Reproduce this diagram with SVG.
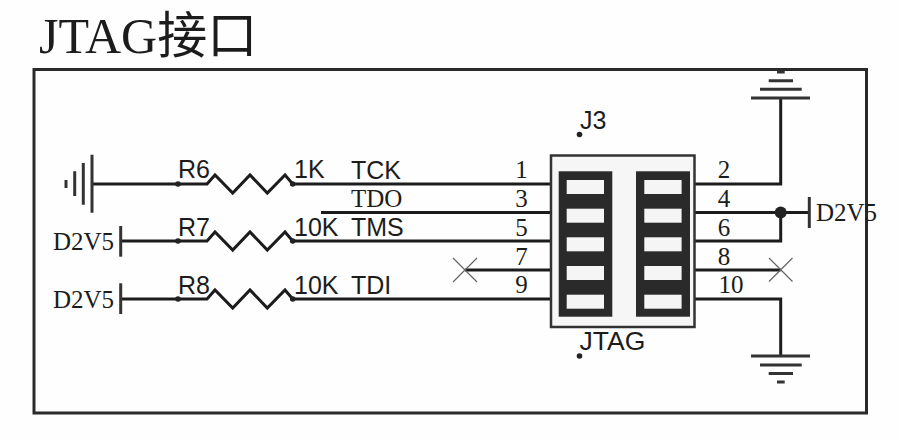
<svg xmlns="http://www.w3.org/2000/svg" width="899" height="440" viewBox="0 0 899 440">
<style>
.w{fill:none;stroke:#1c1c1c;stroke-width:3}
.t{fill:none;stroke:#333;stroke-width:3}
.x{fill:none;stroke:#666;stroke-width:1.2}
.a{font-family:"Liberation Sans",Arial,sans-serif;font-size:25px;fill:#1c1c1c}
.s{font-family:"Liberation Serif","Times New Roman",serif;font-size:25px;fill:#1c1c1c}
.m{text-anchor:middle}
.d{fill:#222}
.k{fill:#2a2a2a}
.p{fill:#f5f5f5}
</style>
<rect width="899" height="440" fill="#fefefe"/>
<text x="39" y="52.500" font-family="'Liberation Serif','Noto Sans CJK SC',serif" font-size="50" fill="#1c1c1c">JTAG接口</text>
<rect id="frame" x="34" y="69.500" width="832.500" height="343.500" fill="none" stroke="#2a2a2a" stroke-width="3"/>
<g id="connectors">
<path class="w" d="M92 184H207L215 175L232.700 193L250 175L267.300 193L285 175L292.700 184H551"/>
<path class="w" d="M321 212.500H551"/>
<path class="w" d="M120.700 241H207L215 232L232.700 250L250 232L267.300 250L285 232L292.700 241H551"/>
<path class="w" d="M465 270H551"/>
<path class="w" d="M120.700 299H207L215 290L232.700 308L250 290L267.300 308L285 290L292.700 299H551"/>
<path class="w" d="M694 184H780.700V98"/>
<path class="w" d="M694 212.500H809"/>
<path class="w" d="M694 241H780.700V212.500"/>
<path class="w" d="M694 270H780.700"/>
<path class="w" d="M694 299H780.700V356"/>
<circle class="d" cx="780.700" cy="212.500" r="6"/>
<g class="d">
<circle cx="178" cy="184" r="2.800"/><circle cx="292.700" cy="184" r="2.800"/>
<circle cx="178" cy="241" r="2.800"/><circle cx="292.700" cy="241" r="2.800"/>
<circle cx="178" cy="299" r="2.800"/><circle cx="292.700" cy="299" r="2.800"/>
</g>
<path class="x" d="M453 258L477 282M477 258L453 282M769 258L792.500 281.500M792.500 258L769 281.500"/>
</g>
<g id="gnd-left"><path class="t" d="M92 154.700V212.700M83.300 163V204.700M74.700 171.300V196M66 180V188"/></g>
<g id="gnd-top"><path class="t" d="M751 98H810M760 89.300H801.700M768.700 80.700H793M777 72H784.700"/></g>
<g id="gnd-bottom"><path class="t" d="M751 356H810M760 365H801.700M768.700 373.500H793M777 382H784.700"/></g>
<g id="pwr-r7"><path class="t" d="M120.700 226V256.700"/><text class="s" x="53" y="250">D2V5</text></g>
<g id="pwr-r8"><path class="t" d="M120.700 283.300V314"/><text class="s" x="53" y="308">D2V5</text></g>
<g id="pwr-right"><path class="t" d="M809.300 197V228"/><text class="s" x="816" y="220.500">D2V5</text></g>
<g id="R6"><text class="a" x="178" y="178">R6</text><text class="a" x="294" y="178">1K</text></g>
<g id="R7"><text class="a" x="178" y="236">R7</text><text class="a" x="294" y="236">10K</text></g>
<g id="R8"><text class="a" x="178" y="294">R8</text><text class="a" x="294" y="294">10K</text></g>
<g id="nets">
<text class="a" x="351" y="179">TCK</text>
<text class="s" x="351" y="207">TDO</text>
<text class="a" x="351" y="236">TMS</text>
<text class="a" x="351" y="294">TDI</text>
</g>
<g id="J3">
<rect x="551" y="155.500" width="143.500" height="171.500" fill="#f6f6f6" stroke="#333" stroke-width="2.500"/>
<rect class="k" x="558.700" y="171.300" width="53.600" height="145.400"/>
<rect class="k" x="636" y="171.300" width="54" height="145.400"/>
<g class="p">
<rect x="566.700" y="180" width="37.300" height="14"/><rect x="566.700" y="208.700" width="37.300" height="14"/><rect x="566.700" y="237.300" width="37.300" height="14"/><rect x="566.700" y="266" width="37.300" height="14"/><rect x="566.700" y="294.700" width="37.300" height="14"/>
<rect x="644.300" y="180" width="37.300" height="14"/><rect x="644.300" y="208.700" width="37.300" height="14"/><rect x="644.300" y="237.300" width="37.300" height="14"/><rect x="644.300" y="266" width="37.300" height="14"/><rect x="644.300" y="294.700" width="37.300" height="14"/>
</g>
<circle class="d" cx="579.500" cy="134.500" r="2.800"/><circle class="d" cx="579.500" cy="356" r="2.800"/>
<text class="a" x="580" y="129">J3</text>
<text class="a" x="579.500" y="350" style="font-size:26.500px">JTAG</text>
<g class="s m">
<text x="521.500" y="178">1</text><text x="521.500" y="207">3</text><text x="521.500" y="236">5</text><text x="521.500" y="265">7</text><text x="521.500" y="293">9</text>
<text x="724" y="178">2</text><text x="724" y="207">4</text><text x="724" y="236">6</text><text x="724" y="265">8</text><text x="731" y="293">10</text>
</g>
</g>
</svg>
